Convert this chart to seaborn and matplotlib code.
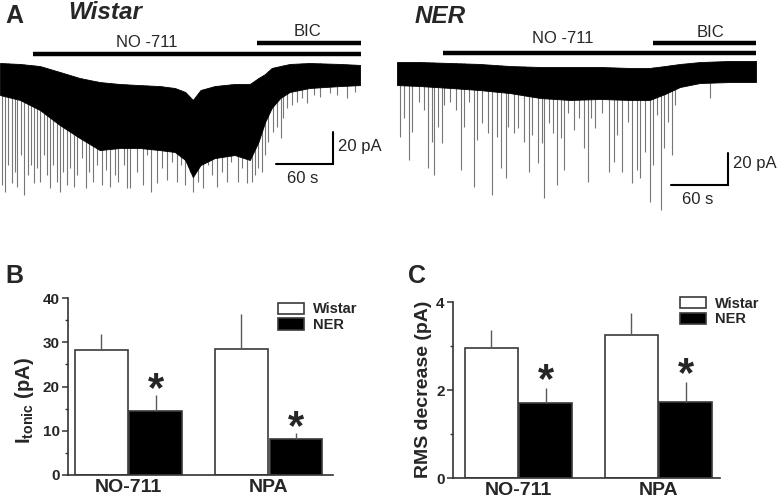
import numpy as np
import pandas as pd
import matplotlib
matplotlib.use("Agg")
import matplotlib.pyplot as plt
from matplotlib.ticker import MultipleLocator
import seaborn as sns

sns.set_style("ticks")
plt.rcParams["font.family"] = ["Liberation Sans", "DejaVu Sans"]
plt.rcParams["mathtext.fontset"] = "custom"
plt.rcParams["mathtext.bf"] = "Liberation Sans:bold"
plt.rcParams["mathtext.rm"] = "Liberation Sans"
plt.rcParams["mathtext.it"] = "Liberation Sans:italic"

# ---------------- Panel A : current traces (time in s, current in pA) ----------------
wistar_env_t = [0, 21, 42, 63, 84, 105, 126, 147, 168, 184, 195, 203, 211, 226, 247, 263,
                272, 279, 286, 295, 305, 326, 358, 379]
wistar_env_top = [7.5, 6.9, 5.6, 1.9, -1.9, -4.4, -5.6, -6.3, -6.9, -8.1, -10.6, -15.6, -9.4,
                  -6.9, -5.6, -5.6, -1.9, 0.6, 4.4, 5.6, 6.9, 7.5, 6.9, 6.3]
wistar_env_bot = [-12.5, -15.6, -21.9, -31.3, -39.4, -46.9, -45.6, -45.6, -46.9, -48.1, -53.1,
                  -63.8, -56.3, -51.9, -50.0, -53.1, -41.9, -29.4, -20.6, -14.4, -10.6, -8.1,
                  -6.9, -6.3]
wistar_spike_t = [2, 5, 8, 13, 16, 18, 22, 25, 29, 33, 36, 39, 42, 46, 49, 53, 56, 60, 63, 66,
                  71, 74, 78, 81, 86, 91, 94, 98, 102, 107, 112, 116, 121, 124, 130, 134, 137,
                  144, 151, 155, 159, 165, 171, 176, 181, 186, 190, 195, 200, 203, 208, 214,
                  219, 223, 228, 234, 239, 243, 250, 255, 260, 265, 268, 272, 276, 279, 282,
                  287, 292, 296, 298, 302, 307, 313, 318, 323, 330, 337, 347, 355, 365, 374]
wistar_spike_amp = [-68.8, -73.1, -56.3, -67.5, -60.6, -70.0, -50.0, -75.0, -62.5, -56.3, -67.5,
                    -58.1, -66.9, -50.0, -62.5, -70.6, -56.3, -66.9, -73.1, -60.6, -68.8, -58.1,
                    -70.0, -62.5, -51.9, -70.6, -60.6, -66.9, -56.3, -68.8, -59.4, -70.0, -62.5,
                    -66.9, -56.3, -70.6, -70.6, -60.6, -68.8, -50.0, -73.1, -67.5, -58.1, -65.6,
                    -54.4, -66.9, -56.3, -68.8, -60.6, -73.1, -66.9, -70.6, -56.3, -62.5, -70.0,
                    -60.6, -66.9, -54.4, -66.9, -58.1, -67.5, -66.9, -62.5, -58.1, -60.6, -50.0,
                    -41.9, -35.6, -32.5, -39.4, -26.9, -20.6, -18.8, -16.9, -14.4, -17.5, -12.5,
                    -13.8, -11.3, -12.5, -14.4, -10.6]

ner_env_t = [0, 24, 56, 87, 119, 151, 182, 214, 245, 266, 282, 298, 319, 351, 378]
ner_env_top = [8.1, 8.1, 7.5, 6.9, 5.6, 5.0, 5.0, 5.0, 4.4, 4.4, 5.6, 6.9, 8.1, 8.8, 8.8]
ner_env_bot = [-6.3, -6.9, -8.1, -9.4, -11.3, -14.4, -15.6, -15.0, -15.6, -15.6, -11.9, -7.5,
               -5.0, -4.4, -4.4]
ner_spike_t = [3, 7, 13, 16, 23, 28, 33, 37, 39, 43, 47, 49, 56, 62, 67, 71, 76, 81, 84, 90, 96,
               100, 105, 110, 115, 117, 123, 127, 134, 139, 142, 148, 153, 155, 160, 164, 168,
               173, 176, 180, 186, 192, 197, 201, 204, 208, 216, 223, 228, 232, 237, 243, 247,
               253, 256, 261, 266, 270, 274, 278, 281, 285, 290, 293, 330]
ner_spike_amp = [-38.8, -26.9, -53.1, -35.6, -16.9, -21.9, -58.1, -41.9, -62.5, -32.5, -42.5,
                 -18.8, -16.9, -21.9, -59.4, -32.5, -16.9, -70.0, -40.6, -30.0, -36.3, -75.0,
                 -38.8, -58.1, -64.4, -32.5, -36.3, -33.1, -41.9, -60.6, -37.5, -55.0, -42.5,
                 -76.9, -30.0, -36.3, -68.8, -39.4, -59.4, -23.8, -34.4, -26.9, -45.6, -66.9,
                 -26.9, -33.1, -23.8, -60.6, -54.4, -37.5, -60.6, -29.4, -67.5, -59.4, -64.4,
                 -48.1, -79.4, -56.3, -25.0, -84.4, -45.6, -29.4, -50.0, -18.8, -14.4]

# drug application periods (s)
wistar_no711 = (35, 380)
wistar_bic = (270, 380)
ner_no711 = (48, 378)
ner_bic = (270, 378)

# ---------------- Panels B and C : bar data ----------------
conditions = ["NO-711", "NPA"]
strains = ["Wistar", "NER"]
itonic_wistar = [28.2, 28.4]
itonic_ner = [14.5, 8.1]
itonic_wistar_err = [3.7, 8.0]
itonic_ner_err = [3.6, 1.4]
rms_wistar = [2.95, 3.26]
rms_ner = [1.70, 1.73]
rms_wistar_err = [0.41, 0.48]
rms_ner_err = [0.34, 0.46]

W, H = 777, 500
fig = plt.figure(figsize=(W / 100, H / 100), dpi=100)


def px_axes(x0, y0, x1, y1):
    return fig.add_axes([x0 / W, 1 - y1 / H, (x1 - x0) / W, (y1 - y0) / H])


SPIKE_C = "#767676"


def trace_panel(ax, env_t, env_top, env_bot, sp_t, sp_amp, no711, bic, xlim, ylim,
                bar_y, txt_pos, scale_x, scale_y, scale_txt):
    ax.set_xlim(*xlim)
    ax.set_ylim(*ylim)
    ax.axis("off")
    sp_t = np.asarray(sp_t, float)
    top_at = np.interp(sp_t, env_t, env_top)
    ax.vlines(sp_t, sp_amp, top_at, color=SPIKE_C, lw=0.8, zorder=1)
    ax.fill_between(env_t, env_bot, env_top, color="black", lw=0.6, edgecolor="black", zorder=2)
    # drug bars
    ax.hlines(bar_y[0], no711[0], no711[1], color="black", lw=3.2, clip_on=False)
    ax.hlines(bar_y[1], bic[0], bic[1], color="black", lw=3.2, clip_on=False)
    ax.text(txt_pos[0][0], txt_pos[0][1], "NO -711", ha="center", va="center", fontsize=12,
            clip_on=False)
    ax.text(txt_pos[1][0], txt_pos[1][1], "BIC", ha="center", va="center", fontsize=12,
            clip_on=False)
    # scale bars: 60 s and 20 pA
    ax.plot([scale_x - 60, scale_x, scale_x], [scale_y, scale_y, scale_y + 20], color="black",
            lw=1.5, clip_on=False, solid_joinstyle="miter")
    ax.text(scale_x + 5, scale_y + 10 + scale_txt[0], "20 pA", ha="left", va="center",
            fontsize=12, clip_on=False)
    ax.text(scale_x - 32, scale_y - 9 + scale_txt[1], "60 s", ha="center", va="center",
            fontsize=12, clip_on=False)


axA1 = px_axes(0, 25, 361, 200)
trace_panel(axA1, wistar_env_t, wistar_env_top, wistar_env_bot, wistar_spike_t, wistar_spike_amp,
            wistar_no711, wistar_bic, (0, 380), (-78.1, 31.25), (13.1, 20.0),
            [(155, 20.6), (324, 26.9)], 351, -55.6, (1.2, 0.0))

axA2 = px_axes(397, 25, 756, 215)
trace_panel(axA2, ner_env_t, ner_env_top, ner_env_bot, ner_spike_t, ner_spike_amp,
            ner_no711, ner_bic, (0, 378), (-87.5, 31.25), (13.75, 20.0),
            [(174, 22.5), (330, 26.3)], 349, -68.8, (3.2, 0.0))

fig.text(5 / W, 1 - 23 / H, "A", fontsize=18, fontweight="bold", va="baseline")
fig.text(68 / W, 1 - 19 / H, "Wistar", fontsize=17.5, fontweight="bold", style="italic",
         va="baseline")
fig.text(415 / W, 1 - 23 / H, "NER", fontsize=17.5, fontweight="bold", style="italic",
         va="baseline")
fig.text(5 / W, 1 - 283 / H, "B", fontsize=18, fontweight="bold", va="baseline")
fig.text(408 / W, 1 - 283 / H, "C", fontsize=18, fontweight="bold", va="baseline")


def bar_panel(ax, wis, ner, wis_err, ner_err, ylim, xlim, major, minor, ylabel, ylab_size,
              ylab_xy, leg_anchor, star_off):
    df = pd.DataFrame({"condition": conditions * 2,
                       "strain": ["Wistar"] * 2 + ["NER"] * 2,
                       "value": wis + ner})
    sns.barplot(data=df, x="condition", y="value", hue="strain", order=conditions,
                hue_order=strains, palette={"Wistar": "white", "NER": "black"},
                edgecolor="#3a3a3a", linewidth=1.2, width=0.78, gap=0.035, errorbar=None,
                saturation=1, ax=ax)
    for cont, errs, starred in zip(ax.containers, [wis_err, ner_err], [False, True]):
        for bar, e in zip(cont, errs):
            x = bar.get_x() + bar.get_width() / 2
            y = bar.get_height()
            ax.errorbar([x], [y], yerr=[[0], [e]], fmt="none", ecolor="#5a5a5a",
                        elinewidth=1.0, capsize=0, zorder=1)
            if starred:
                ax.annotate("*", xy=(x, y + e), xytext=(0, star_off), textcoords="offset points",
                            ha="center", va="center", fontsize=30, fontweight="bold")
    ax.set_ylim(*ylim)
    ax.set_xlim(*xlim)
    ax.yaxis.set_major_locator(MultipleLocator(major))
    ax.yaxis.set_minor_locator(MultipleLocator(minor))
    ax.tick_params(axis="y", which="major", length=4, width=1.1, color="#333333", pad=2,
                   labelsize=11)
    ax.tick_params(axis="y", which="minor", length=2.2, width=1.0, color="#333333")
    ax.tick_params(axis="x", length=0, pad=3, labelsize=14)
    for lbl in ax.get_yticklabels() + ax.get_xticklabels():
        lbl.set_fontweight("bold")
    ax.set_xlabel("")
    ax.set_ylabel(ylabel, fontsize=ylab_size, fontweight="bold")
    ax.yaxis.set_label_coords(*ylab_xy)
    sns.despine(ax=ax)
    for sp in ("left", "bottom"):
        ax.spines[sp].set_color("#333333")
        ax.spines[sp].set_linewidth(1.2)
    handles, labels = ax.get_legend_handles_labels()
    ax.legend(handles, labels, frameon=False, loc="upper left", bbox_to_anchor=leg_anchor,
              borderpad=0, borderaxespad=0, handlelength=1.8, handleheight=0.85,
              handletextpad=0.6, labelspacing=0.12, prop={"weight": "bold", "size": 10.5})


axB = px_axes(68, 298, 333, 475)
bar_panel(axB, itonic_wistar, itonic_ner, itonic_wistar_err, itonic_ner_err, (0, 40),
          (-0.432, 1.46), 10, 5, r"$\mathbf{I}_{\mathbf{tonic}}$ (pA)", 14.5, (-0.12, 0.42),
          (0.792, 0.975), 3.5)

axC = px_axes(453, 302, 720, 478)
bar_panel(axC, rms_wistar, rms_ner, rms_wistar_err, rms_ner_err, (0, 4),
          (-0.468, 1.439), 2, 1, "RMS decrease (pA)", 14, (-0.079, 0.503), (0.850, 1.03), 5)

fig.savefig("out.png", dpi=100)
